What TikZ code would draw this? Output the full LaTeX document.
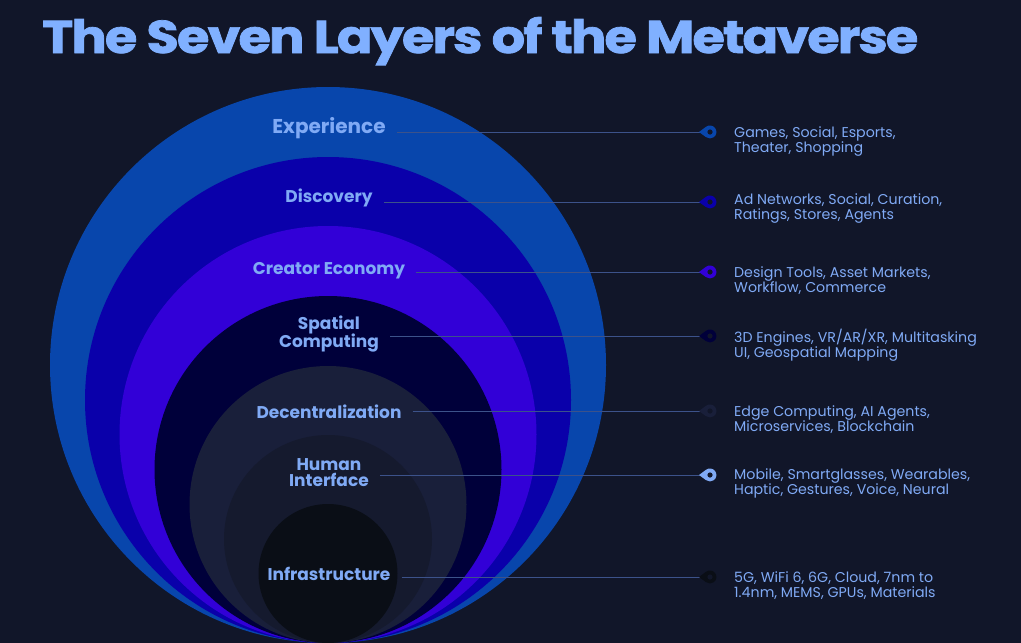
\documentclass[tikz,border=0pt]{standalone}
\usepackage{fontspec}
\setmainfont{Poppins}
\newfontfamily\titlefont{Poppins}[BoldFeatures={FakeBold=1.6}, LetterSpace=-3.5]
\definecolor{bg}{RGB}{17,22,41}
\definecolor{cA}{RGB}{8,70,172}
\definecolor{cB}{RGB}{10,0,170}
\definecolor{cC}{RGB}{50,0,215}
\definecolor{cD}{RGB}{0,0,58}
\definecolor{cE}{RGB}{25,31,58}
\definecolor{cF}{RGB}{21,26,46}
\definecolor{cG}{RGB}{10,14,22}
\definecolor{txt}{RGB}{128,170,245}
\definecolor{ttl}{RGB}{128,176,255}
\definecolor{lnc}{RGB}{60,82,138}
\newcommand\mypin[3]{%
  \fill[#2] (#1) ++(-11,0) -- ++(7,-5.25) arc[start angle=126.87,end angle=-126.87,radius=6.5pt] -- cycle;
  \fill[#3] (#1) circle (2.6pt);}
\tikzset{
  layer/.style={font=\bfseries\fontsize{17}{17}\selectfont, text=txt, align=center, inner sep=0pt},
  desc/.style={font=\fontsize{14.2}{15}\selectfont, text=txt, align=left, anchor=west, inner sep=0pt},
  conn/.style={draw=lnc, line width=0.9pt, shorten <=11pt}
}
\begin{document}
\begin{tikzpicture}[x=1pt,y=-1pt]
\fill[bg] (0,0) rectangle (1021,643);
\useasboundingbox (0,0) rectangle (1021,643);
% title
\node[anchor=base west, inner sep=0pt, text=ttl] (title) at (42,53)
  {\resizebox{876pt}{36pt}{\titlefont\fontsize{50}{60}\selectfont\bfseries The Seven Layers of the Metaverse}};
% nested circles
\fill[cA] (328,365) circle (278pt);
\fill[cB] (328,400) circle (243pt);
\fill[cC] (328,434.5) circle (208.5pt);
\fill[cD] (328,469.5) circle (173.5pt);
\fill[cE] (328,504.5) circle (138.5pt);
\fill[cF] (328,539) circle (104pt);
\fill[cG] (328,573.5) circle (69.5pt);
% labels
\node[layer, font=\bfseries\fontsize{20}{20}\selectfont] (expL) at (329,128) {Experience};
\node[layer] (disL) at (329,198) {Discovery};
\node[layer] (creL) at (329,271) {Creator Economy};
\node[layer] (spaL) at (329,334) {Spatial\\[-1pt]Computing};
\node[layer] (decL) at (329,412) {Decentralization};
\node[layer] (humL) at (329,473) {Human\\[-1pt]Interface};
\node[layer] (infL) at (329,574) {Infrastructure};
% marker coordinates
\coordinate (m1) at (710,132);
\coordinate (m2) at (710,202);
\coordinate (m3) at (710,272);
\coordinate (m4) at (710,336);
\coordinate (m5) at (710,411);
\coordinate (m6) at (710,475);
\coordinate (m7) at (710,577);
% connectors
\draw[conn] (expL.east |- m1) -- (m1);
\draw[conn] (disL.east |- m2) -- (m2);
\draw[conn] (creL.east |- m3) -- (m3);
\draw[conn] (spaL.east |- m4) -- (m4);
\draw[conn] (decL.east |- m5) -- (m5);
\draw[conn] (humL.east |- m6) -- (m6);
\draw[conn] (infL.east |- m7) -- (m7);
% markers
\mypin{m1}{cA}{bg}
\mypin{m2}{cB}{bg}
\mypin{m3}{cC}{bg}
\mypin{m4}{cD}{bg}
\mypin{m5}{cE}{bg}
\mypin{m6}{txt}{bg}
\mypin{m7}{cG}{bg}
% descriptions
\node[desc] (d1) at (734,142) {Games, Social, Esports,\\Theater, Shopping};
\node[desc] (d2) at (734,209) {Ad Networks, Social, Curation,\\Ratings, Stores, Agents};
\node[desc] (d3) at (734,281) {Design Tools, Asset Markets,\\Workflow, Commerce};
\node[desc] (d4) at (734,345) {3D Engines, VR/AR/XR, Multitasking\\UI, Geospatial Mapping};
\node[desc] (d5) at (734,420) {Edge Computing, AI Agents,\\Microservices, Blockchain};
\node[desc] (d6) at (734,483.5) {Mobile, Smartglasses, Wearables,\\Haptic, Gestures, Voice, Neural};
\node[desc] (d7) at (734,586) {5G, WiFi 6, 6G, Cloud, 7nm to\\1.4nm, MEMS, GPUs, Materials};
\end{tikzpicture}
\end{document}
